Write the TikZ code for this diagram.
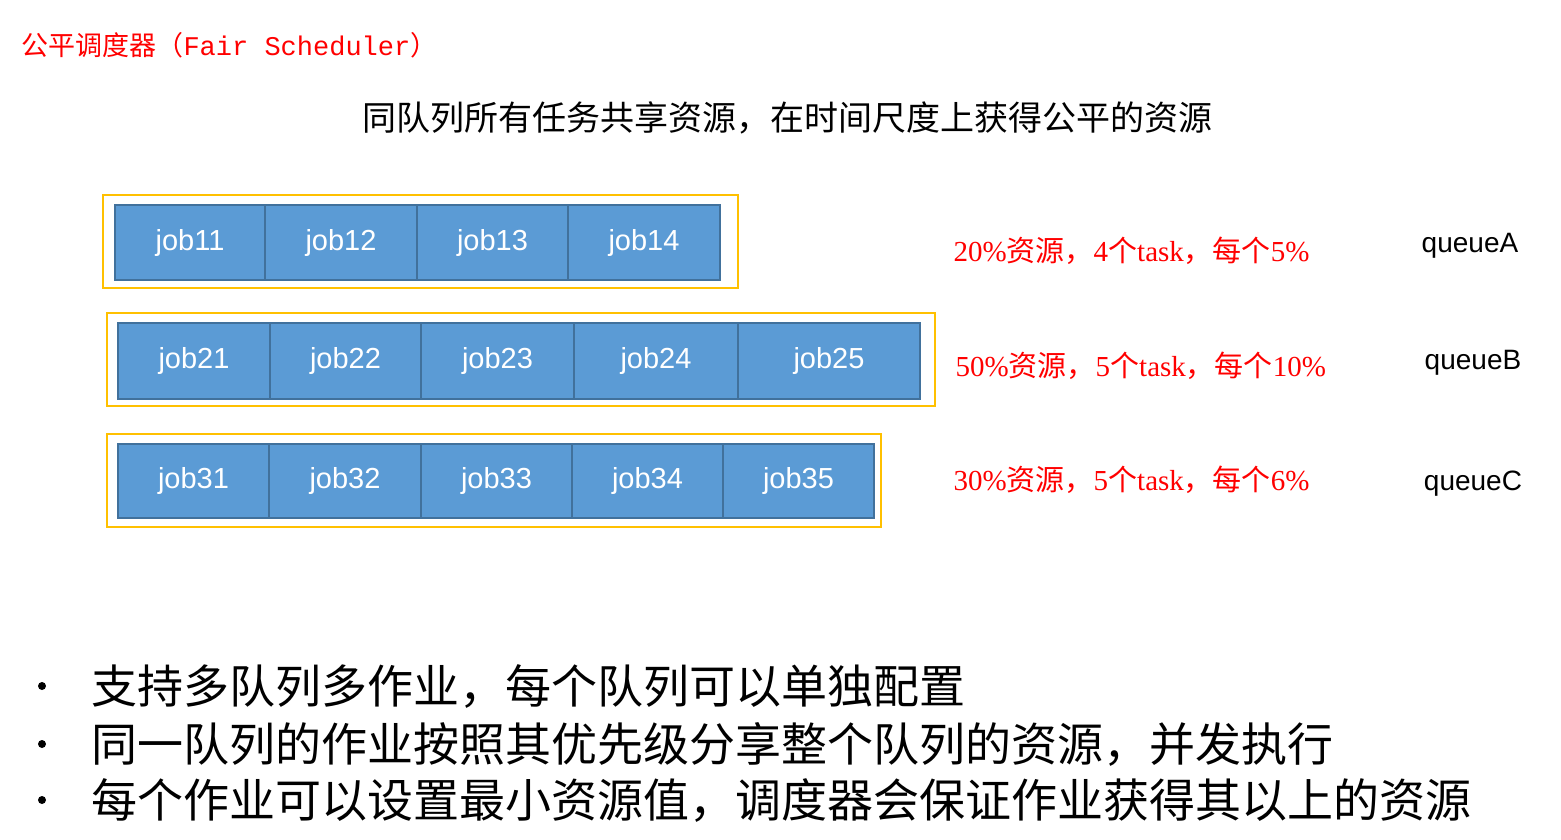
\documentclass[tikz,border=0pt]{standalone}
\usepackage{fontspec}
\setmainfont{Liberation Sans}
\newfontfamily\cjk{Noto Sans CJK SC}
\newfontfamily\monof{Liberation Mono}
\newfontfamily\serf{Liberation Serif}
\definecolor{jobblue}{HTML}{5B9BD5}
\definecolor{jobedge}{HTML}{41719C}
\definecolor{frameyel}{HTML}{FFC000}
\begin{document}
\begin{tikzpicture}[x=1pt,y=-1pt,
  jobbox/.style={draw=jobedge,line width=2pt,fill=jobblue,text=white,font=\fontsize{29}{32}\selectfont},
  yframe/.style={draw=frameyel,line width=2.5pt},
  redlab/.style={text=red,anchor=west,font=\fontsize{29}{32}\selectfont\serf},
  qlab/.style={anchor=center,font=\fontsize{28}{32}\selectfont},
  bullet/.style={anchor=west,font=\fontsize{46}{50}\selectfont\cjk}]
\useasboundingbox (0,0) rectangle (1561,839);
\node[anchor=west,text=red,font=\fontsize{27}{30}\selectfont] (title) at (18,45) {{\cjk 公平调度器（}{\monof Fair Scheduler}{\cjk ）}};
\node[font=\fontsize{34}{38}\selectfont\cjk] (sub) at (787,118) {同队列所有任务共享资源，在时间尺度上获得公平的资源};
% row 1
\draw[yframe] (103,195) rectangle (738,288);
\foreach \a/\b/\n in {115/265/11,265/417/12,417/568/13,568/720/14}
  \node[jobbox,minimum width={\b-\a},minimum height=75,inner sep=0] (j\n) at ({(\a+\b)/2},242.5) {job\n};
% row 2
\draw[yframe] (107,313) rectangle (935,406);
\foreach \a/\b/\n in {118/270/21,270/421/22,421/574/23,574/738/24,738/920/25}
  \node[jobbox,minimum width={\b-\a},minimum height=76,inner sep=0] (j\n) at ({(\a+\b)/2},361) {job\n};
% row 3
\draw[yframe] (107,434) rectangle (881,527);
\foreach \a/\b/\n in {118/269/31,269/421/32,421/572/33,572/723/34,723/874/35}
  \node[jobbox,minimum width={\b-\a},minimum height=74,inner sep=0] (j\n) at ({(\a+\b)/2},481) {job\n};
\node[redlab] (ra) at (950,251) {20\%{\cjk 资源，}4{\cjk 个}task{\cjk ，每个}5\%};
\node[redlab] (rb) at (952,366) {50\%{\cjk 资源，}5{\cjk 个}task{\cjk ，每个}10\%};
\node[redlab] (rc) at (950,480) {30\%{\cjk 资源，}5{\cjk 个}task{\cjk ，每个}6\%};
\node[qlab] (qa) at (1470,246) {queueA};
\node[qlab] (qb) at (1473,363) {queueB};
\node[qlab] (qc) at (1473,484) {queueC};
\foreach \y/\t/\k in {686/支持多队列多作业，每个队列可以单独配置/b1,744/同一队列的作业按照其优先级分享整个队列的资源，并发执行/b2,800/每个作业可以设置最小资源值，调度器会保证作业获得其以上的资源/b3}{
  \fill (42,\y) circle (4);
  \node[bullet] (\k) at (88,\y) {\t};
}
\end{tikzpicture}
\end{document}
